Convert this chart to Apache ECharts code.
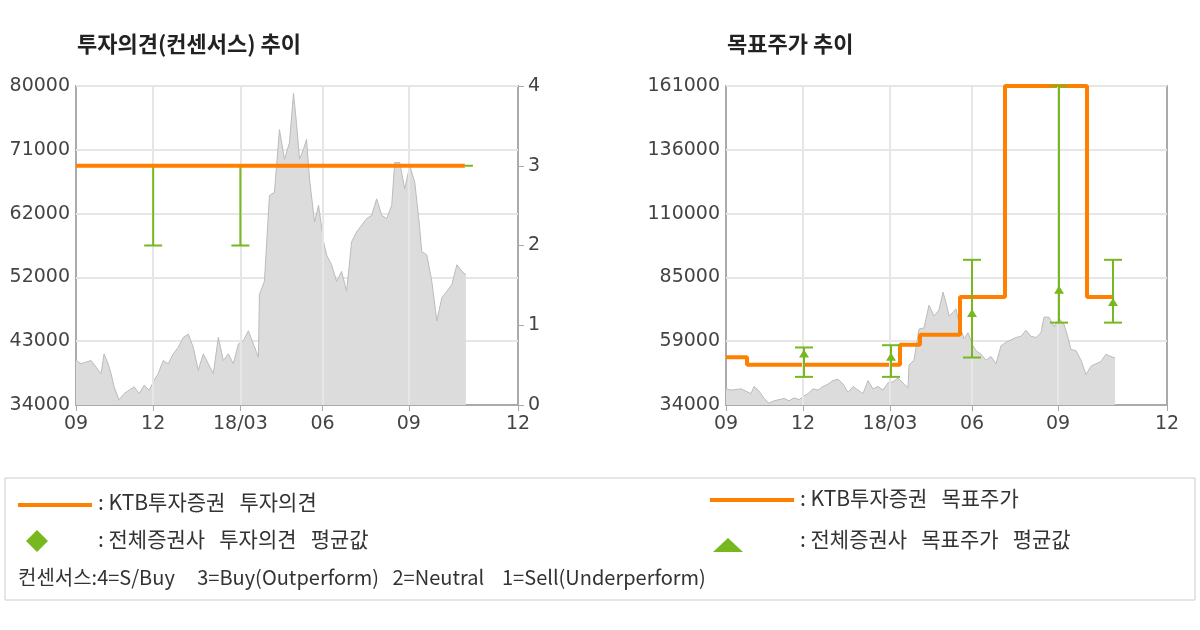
<!DOCTYPE html>
<html><head><meta charset="utf-8">
<script src="https://cdn.jsdelivr.net/npm/echarts@6/dist/echarts.min.js"></script>
<style>html,body{margin:0;background:#fff}#c{width:1200px;height:630px}</style>
</head><body><div id="c"></div>
<script>
// x unit = position along the time axis (0 = 2017/09, 441 = 2018/12)
const tickPos = [0, 77, 164, 246, 332, 441];
const tickLabels = ['09', '12', '18/03', '06', '09', '12'];

// share price [x, price]
const price = [
  [0,40420],[5,39950],[10,40180],[15,40420],[20,39470],[25,38520],[28,41370],[32,39950],[35,38520],
  [38,36620],[43,34710],[48,35660],[53,36140],[58,36620],[63,35660],[68,36850],[73,36140],[78,37570],
  [82,38520],[87,40420],[92,39950],[97,41370],[102,42320],[107,43750],[112,44230],[117,42320],[122,39000],
  [127,41370],[132,39950],[137,38520],[142,43750],[147,40420],[152,41370],[157,39950],[162,42800],[167,43280],
  [172,44700],[177,42800],[182,40900],[183,49940],[188,51840],[193,64210],[198,64680],[203,73720],[208,69440],
  [213,71820],[217,78950],[220,74670],[223,69440],[227,70870],[230,72290],[233,66590],[238,60400],[242,62780],
  [247,57550],[250,55640],[255,54220],[260,51840],[265,53270],[270,50410],[275,57550],[280,58970],[285,59930],
  [290,60880],[295,61350],[300,63730],[305,61350],[310,60880],[315,62780],[318,68960],[323,68960],[328,65160],
  [333,68490],[338,66110],[342,60880],[345,56120],[350,55640],[355,51840],[360,46130],[365,49460],[370,50410],
  [375,51360],[380,54220],[385,53270],[389,52790]
];

// left: KTB opinion and consensus ranges (right axis 0-4)
const ktbOpinion = [[0,3],[388,3]];
const opinionTail = [[388,3],[396,3]];
const opinionRange = [[77,2,3,3],[164,2,3,3]]; // x, low, high, avg

// right: KTB target price steps
const ktbTarget = [[0,53000],[21,53000],[21,50000],[174,50000],[174,58000],[194,58000],[194,62000],[234,62000],
  [234,77000],[279,77000],[279,161000],[361,161000],[361,77000],[387,77000]];
const targetRange = [[78,45200,56900,54500],[165,45200,57800,53200],[246,52900,91800,70600],
  [333,66800,161000,79900],[387,66800,91800,75000]]; // x, low, high, avg

const ORANGE = '#ff7f00', GREEN = '#77b81e', GRAY = '#dcdcdc';
const txt = {color:'#444', fontSize:19, fontFamily:'DejaVu Sans'};
const lg = '21px "Noto Sans CJK KR"';

const xAxisOf = (g) => ({
  type:'value', gridIndex:g, min:0, max:441, interval:1000,
  axisLine:{lineStyle:{color:'#aaa', width:2}}, axisTick:{show:true, customValues:tickPos, length:6, lineStyle:{color:'#aaa'}},
  axisLabel:{...txt, customValues:tickPos, margin:10, formatter:v => tickLabels[tickPos.indexOf(v)]},
  splitLine:{show:false}
});
const round = v => String(Math.round(v / 1000) * 1000);

const errBar = (xi, yi, data, withMarker) => ({
  type:'custom', xAxisIndex:xi, yAxisIndex:yi, data:data, z:5,
  renderItem:(p, api) => {
    const x = api.value(0);
    const lo = api.coord([x, api.value(1)]), hi = api.coord([x, api.value(2)]), av = api.coord([x, api.value(3)]);
    const w = 9, ls = {stroke:GREEN, lineWidth:2};
    const ch = [
      {type:'line', shape:{x1:lo[0], y1:lo[1], x2:hi[0], y2:hi[1]}, style:ls},
      {type:'line', shape:{x1:lo[0]-w, y1:lo[1], x2:lo[0]+w, y2:lo[1]}, style:ls},
      {type:'line', shape:{x1:hi[0]-w, y1:hi[1], x2:hi[0]+w, y2:hi[1]}, style:ls}
    ];
    if (withMarker) ch.push({type:'polygon', shape:{points:[[av[0]-5,av[1]+4],[av[0]+5,av[1]+4],[av[0],av[1]-4]]}, style:{fill:GREEN}});
    return {type:'group', children:ch};
  }
});
const vLines = {silent:true, symbol:'none', label:{show:false}, lineStyle:{color:'#e6e6e6', type:'solid', width:2},
  data: tickPos.slice(1, 5).map(v => ({xAxis:v}))};

const chart = echarts.init(document.getElementById('c'));
chart.setOption({
  animation:false,
  title:[
    {text:'투자의견(컨센서스) 추이', left:72, top:28, textStyle:{fontSize:22, fontWeight:'bold', color:'#222', fontFamily:'Noto Sans CJK KR'}},
    {text:'목표주가 추이', left:722, top:28, textStyle:{fontSize:22, fontWeight:'bold', color:'#222', fontFamily:'Noto Sans CJK KR'}}
  ],
  grid:[
    {left:76, right:682, top:86, bottom:225, show:true, borderColor:'#aaa', borderWidth:2},
    {left:726, right:33, top:86, bottom:225, show:true, borderColor:'#aaa', borderWidth:2}
  ],
  xAxis:[xAxisOf(0), xAxisOf(1)],
  yAxis:[
    {type:'value', gridIndex:0, min:34000, max:80000, interval:9200, axisLine:{show:false}, axisTick:{show:false},
      axisLabel:{...txt, margin:6, formatter:round}, splitLine:{lineStyle:{color:'#e6e6e6', width:2}}},
    {type:'value', gridIndex:0, position:'right', min:0, max:4, interval:1, axisLine:{show:false},
      axisTick:{show:true, length:6, lineStyle:{color:'#aaa'}}, axisLabel:{...txt, margin:10}, splitLine:{show:false}},
    {type:'value', gridIndex:1, min:34000, max:161000, interval:25400, axisLine:{show:false}, axisTick:{show:false},
      axisLabel:{...txt, margin:6, formatter:round}, splitLine:{lineStyle:{color:'#e6e6e6', width:2}}}
  ],
  series:[
    {type:'line', xAxisIndex:0, yAxisIndex:0, data:price, symbol:'none', lineStyle:{color:'#bbb', width:1},
      areaStyle:{color:GRAY, opacity:1}, markLine:vLines, z:1},
    {type:'line', xAxisIndex:0, yAxisIndex:1, data:ktbOpinion, symbol:'none', lineStyle:{color:ORANGE, width:4}, z:6},
    {type:'line', xAxisIndex:0, yAxisIndex:1, data:opinionTail, symbol:'none', lineStyle:{color:GREEN, width:2}, z:4},
    errBar(0, 1, opinionRange, false),
    {type:'line', xAxisIndex:1, yAxisIndex:2, data:price, symbol:'none', lineStyle:{color:'#bbb', width:1},
      areaStyle:{color:GRAY, opacity:1}, markLine:vLines, z:1},
    {type:'line', xAxisIndex:1, yAxisIndex:2, data:ktbTarget, symbol:'none', lineStyle:{color:ORANGE, width:4}, z:4},
    errBar(1, 2, targetRange, true)
  ],
  graphic:[
    {type:'rect', shape:{x:5, y:478, width:1190, height:122}, style:{fill:'#fff', stroke:'#ccc', lineWidth:1}},
    {type:'line', shape:{x1:18, y1:505, x2:92, y2:505}, style:{stroke:ORANGE, lineWidth:4}},
    {type:'text', x:98, y:492, style:{text:': KTB투자증권   투자의견', fill:'#333', font:lg}},
    {type:'polygon', shape:{points:[[37,530],[48,541],[37,552],[26,541]]}, style:{fill:'#77b81e'}},
    {type:'text', x:98, y:529, style:{text:': 전체증권사   투자의견   평균값', fill:'#333', font:lg}},
    {type:'text', x:18, y:567, style:{text:'컨센서스:4=S/Buy     3=Buy(Outperform)   2=Neutral    1=Sell(Underperform)', fill:'#333', font:'20px "Noto Sans CJK KR"'}},
    {type:'line', shape:{x1:710, y1:500, x2:794, y2:500}, style:{stroke:ORANGE, lineWidth:4}},
    {type:'text', x:800, y:488, style:{text:': KTB투자증권   목표주가', fill:'#333', font:lg}},
    {type:'polygon', shape:{points:[[713,552],[743,552],[728,538]]}, style:{fill:'#77b81e'}},
    {type:'text', x:800, y:529, style:{text:': 전체증권사   목표주가   평균값', fill:'#333', font:lg}}
  ]
});
</script></body></html>
